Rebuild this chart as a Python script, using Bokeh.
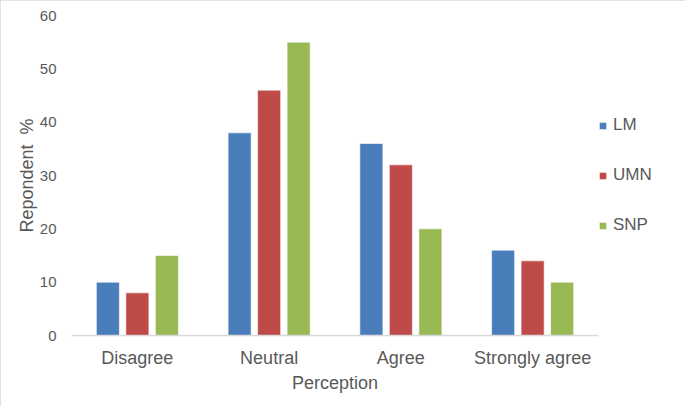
from bokeh.plotting import figure
from bokeh.models import ColumnDataSource, Legend, LegendItem, FactorRange
from bokeh.transform import dodge
from bokeh.embed import file_html
from bokeh.resources import INLINE

categories = ["Disagree", "Neutral", "Agree", "Strongly agree"]
series_names = ["LM", "UMN", "SNP"]
lm = [10, 38, 36, 16]
umn = [8, 46, 32, 14]
snp = [15, 55, 20, 10]
y_ticks = [0, 10, 20, 30, 40, 50, 60]

colors = ["#4A7EBB", "#BE4B48", "#98B954"]
FONT = "Liberation Sans"
TXT = "#595959"

source = ColumnDataSource(data=dict(cat=categories, LM=lm, UMN=umn, SNP=snp))

p = figure(
    x_range=FactorRange(*categories),
    y_range=(0, 60),
    frame_width=527, frame_height=320,
    min_border_left=71, min_border_right=87,
    min_border_top=15, min_border_bottom=71,
    output_backend="svg", toolbar_location=None,
)
p.styles = {"outline": "1px solid #d9d9d9", "outline-offset": "-1px"}

offsets = [-0.224, 0.0, 0.224]
renderers = []
for name, off, col in zip(series_names, offsets, colors):
    r = p.vbar(x=dodge("cat", off, range=p.x_range), top=name, width=0.175,
               source=source, fill_color=col, line_color="white",
               line_alpha=0.6, line_width=1)
    renderers.append(r)

p.xgrid.grid_line_color = None
p.ygrid.grid_line_color = None
p.outline_line_color = None

p.yaxis.ticker = y_ticks
p.yaxis.axis_line_color = None
p.yaxis.major_tick_line_color = None
p.yaxis.minor_tick_line_color = None
p.yaxis.major_label_standoff = 9
p.yaxis.axis_label = "Repondent\u00a0 %"
p.yaxis.axis_label_standoff = 0

p.xaxis.axis_line_color = "#d9d9d9"
p.xaxis.axis_line_width = 1.5
p.xaxis.major_tick_line_color = None
p.xaxis.minor_tick_line_color = None
p.xaxis.major_label_standoff = 6
p.xaxis.axis_label = "Perception"
p.xaxis.axis_label_standoff = 2

for ax in (p.xaxis, p.yaxis):
    ax.major_label_text_font = FONT
    ax.major_label_text_color = TXT
    ax.axis_label_text_font = FONT
    ax.axis_label_text_color = TXT
    ax.axis_label_text_font_style = "normal"
    ax.axis_label_text_font_size = "18px"
p.yaxis.major_label_text_font_size = "15px"
p.xaxis.major_label_text_font_size = "18px"

legend = Legend(
    items=[LegendItem(label=n, renderers=[r]) for n, r in zip(series_names, renderers)],
    location="center_left",
    orientation="vertical",
    glyph_width=9, glyph_height=9,
    label_height=20, label_standoff=6,
    spacing=30,
    padding=0, margin=0,
    border_line_color=None, background_fill_alpha=0,
    label_text_font=FONT, label_text_font_size="17px", label_text_color=TXT,
)
p.add_layout(legend, "right")

open("out.html", "w").write(file_html(p, INLINE))
